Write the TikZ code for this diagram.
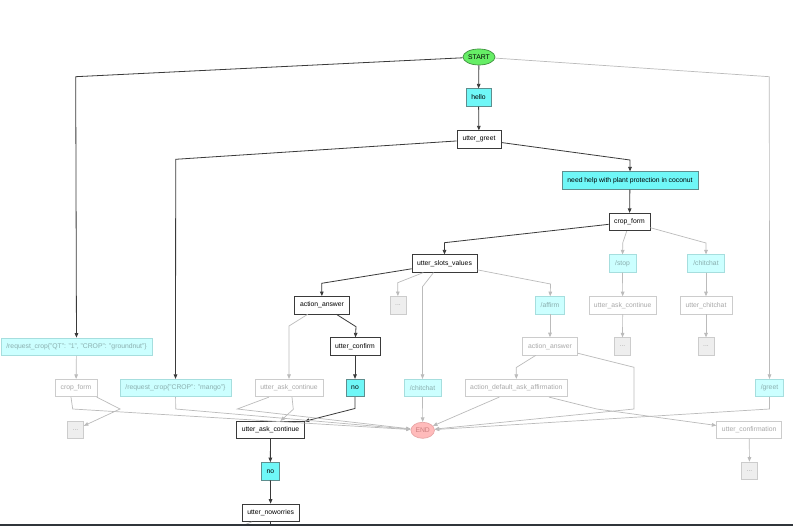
\documentclass[tikz,border=0pt]{standalone}
\usepackage{fontspec}
\setmainfont{Liberation Sans}
\usetikzlibrary{arrows.meta,shapes.geometric}
\definecolor{dkline}{HTML}{3A3A3A}
\definecolor{grline}{HTML}{BBBBBB}
\definecolor{cyanA}{HTML}{6FF7F7}
\definecolor{cyanAb}{HTML}{5E8E8E}
\definecolor{cyanB}{HTML}{CCFFFF}
\definecolor{cyanBb}{HTML}{A6DEDE}
\definecolor{cyanBt}{HTML}{8AAEAE}
\definecolor{grbox}{HTML}{CCCCCC}
\definecolor{grtext}{HTML}{A8A8A8}
\definecolor{dotsfill}{HTML}{EEEEEE}
\definecolor{startfill}{HTML}{66EE66}
\definecolor{startb}{HTML}{3F8F3F}
\definecolor{endfill}{HTML}{FFBBBB}
\definecolor{endb}{HTML}{E8A6A6}
\definecolor{endt}{HTML}{CC8080}
\definecolor{barcol}{HTML}{30353A}
\begin{document}
\begin{tikzpicture}[x=1pt,y=-1pt,
  nb/.style={rectangle,inner sep=0pt,minimum height=17.5pt,font=\fontsize{6.8}{8}\selectfont,line width=0.7pt},
  dk/.style={nb,draw=dkline,fill=white,text=black},
  dcy/.style={nb,draw=cyanAb,fill=cyanA,text=black},
  lcy/.style={nb,draw=cyanBb,fill=cyanB,text=cyanBt},
  gr/.style={nb,draw=grbox,fill=white,text=grtext},
  dotsbox/.style={nb,draw=grbox,fill=dotsfill,text=grtext,minimum width=16pt},
  de/.style={draw=dkline,line width=0.8pt,-{Triangle[length=4.5pt,width=3.6pt]}},
  ge/.style={draw=grline,line width=0.7pt,-{Triangle[length=4.5pt,width=3.6pt]}},
  gl/.style={draw=grline,line width=0.7pt},
  dl/.style={draw=dkline,line width=0.8pt}
]
\useasboundingbox (0,0) rectangle (793,526);
\fill[white] (0,0) rectangle (793,526);

% nodes
\node[ellipse,draw=startb,fill=startfill,inner sep=0pt,minimum width=32pt,minimum height=16pt,line width=0.7pt,font=\fontsize{6.8}{8}\selectfont] (start) at (479,57) {START};
\node[dcy,minimum width=25pt] (hello) at (478.5,97.5) {hello};
\node[dk,minimum width=44pt] (greet) at (479,139.5) {utter\_greet};
\node[dcy,minimum width=136pt] (needhelp) at (630,180.5) {need help with plant protection in coconut};
\node[dk,minimum width=41pt] (cf) at (629.5,222) {crop\_form};
\node[dk,minimum width=65pt] (usv) at (444.5,263.5) {utter\_slots\_values};
\node[lcy,minimum width=27pt] (stop) at (622.5,263.5) {/stop};
\node[lcy,minimum width=36.6pt] (chit1) at (706,263.5) {/chitchat};
\node[dk,minimum width=54.7pt] (aad) at (322,305.2) {action\_answer};
\node[dotsbox] (dots0) at (398,305.2) {...};
\node[lcy,minimum width=29pt] (affirm) at (550,305.3) {/affirm};
\node[gr,minimum width=67pt] (uacr) at (622.7,305.3) {utter\_ask\_continue};
\node[gr,minimum width=51.7pt] (uchit) at (706,305.3) {utter\_chitchat};
\node[dk,minimum width=50pt] (uconfirm) at (355,346.5) {utter\_confirm};
\node[gr,minimum width=54.7pt] (aag) at (550,346.3) {action\_answer};
\node[dotsbox] (dots1) at (622.5,346.5) {...};
\node[dotsbox] (dots2) at (706,346.5) {...};
\node[lcy,minimum width=151pt] (gnut) at (76.5,346.7) {/request\_crop\{"QT": "1", "CROP": "groundnut"\}};
\node[gr,minimum width=41.7pt] (cfg) at (76,388) {crop\_form};
\node[lcy,minimum width=111pt] (mango) at (175.5,388) {/request\_crop\{"CROP": "mango"\}};
\node[gr,minimum width=67.7pt] (uacm) at (289,388) {utter\_ask\_continue};
\node[dcy,minimum width=18pt] (no1) at (355,388) {no};
\node[lcy,minimum width=37pt] (chit2) at (422.5,388) {/chitchat};
\node[gr,minimum width=102pt] (ada) at (516.3,388) {action\_default\_ask\_affirmation};
\node[lcy,minimum width=28.4pt] (greetI) at (769.5,388) {/greet};
\node[dotsbox] (dotsL) at (75.5,429.7) {...};
\node[dk,minimum width=67.7pt] (uacd) at (270.5,430) {utter\_ask\_continue};
\node[ellipse,draw=endb,fill=endfill,text=endt,inner sep=0pt,minimum width=23.5pt,minimum height=16pt,line width=0.7pt,font=\fontsize{6.8}{8}\selectfont] (endn) at (422.7,430.3) {END};
\node[gr,minimum width=65pt] (uconf) at (749.2,430) {utter\_confirmation};
\node[dotsbox] (dots4) at (749.5,470.8) {...};
\node[dcy,minimum width=18pt] (no2) at (270.3,471.3) {no};
\node[dk,minimum width=57.3pt] (unw) at (270.7,512.8) {utter\_noworries};
\coordinate (cutA) at (270.7,524);
\coordinate (cutB) at (245.5,524.5);

% dark connectors
\draw[de] (start) -- (75.7,76.7) -- (gnut);
\draw[de] (start) -- (hello);
\draw[de] (hello) -- (greet);
\draw[de] (greet) -- (175.7,159.3) -- (mango);
\draw[de] (greet) -- (630,160) -- (needhelp);
\draw[de] (needhelp) -- (cf);
\draw[de] (cf) -- (444.5,242.7) -- (usv);
\draw[de] (usv) -- (321.7,283.3) -- (aad);
\draw[de] (aad) -- (356,326.7) -- (uconfirm);
\draw[de] (uconfirm) -- (no1);
\draw[de] (no1) -- (355,408.5) -- (uacd);
\draw[de] (uacd) -- (no2);
\draw[de] (no2) -- (unw);
\draw[dl] (unw) -- (cutA);

% gray connectors
\draw[ge] (start) -- (769.3,76.7) -- (greetI);
\draw[ge] ([xshift=-2.8pt]cf.south) -- (622.7,243) -- (stop);
\draw[ge] (cf) -- (706,243) -- (chit1);
\draw[ge] (stop) -- (uacr);
\draw[ge] (uacr) -- (dots1);
\draw[ge] (chit1) -- (uchit);
\draw[ge] (uchit) -- (dots2);
\draw[ge] ([xshift=-21.2pt]usv.south) -- (397.7,282.7) -- (dots0);
\draw[ge] ([xshift=-11pt]usv.south) -- (422.5,286.7) -- (chit2);
\draw[ge] (usv) -- (550.5,284) -- (affirm);
\draw[ge] (affirm) -- (aag);
\draw[ge] ([xshift=-14.3pt]aag.south) -- (516.3,367.5) -- (ada);
\draw[ge] (aag) -- (634,367.3) -- (634,409) -- (endn);
\draw[ge] ([xshift=-17pt]ada.south) -- (endn);
\draw[ge] ([xshift=32.7pt]ada.south) -- (596.7,409) -- (uconf);
\draw[ge] (uconf) -- (dots4);
\draw[ge] (greetI) -- (769.5,409) -- (endn);
\draw[ge] (chit2) -- (endn);
\draw[ge] ([xshift=-14.3pt]aad.south) -- (289,326) -- (uacm);
\draw[ge] ([xshift=3pt]uacm.south) -- (293.3,409.3) -- (uacd);
\draw[ge] ([xshift=-20pt]uacm.south) -- (237.3,409) -- (endn);
\draw[ge] (gnut) -- (cfg);
\draw[ge] ([xshift=-5pt]cfg.south) -- (72.7,409) -- (endn);
\draw[ge] ([xshift=20.7pt]cfg.south) -- (120,409) -- (dotsL);
\draw[ge] (mango) -- (175.7,409) -- (endn);
\draw[gl] ([xshift=-19pt]unw.south) -- (cutB);

% bottom bar
\fill[barcol] (0,523.7) rectangle (793,526);
\end{tikzpicture}
\end{document}
